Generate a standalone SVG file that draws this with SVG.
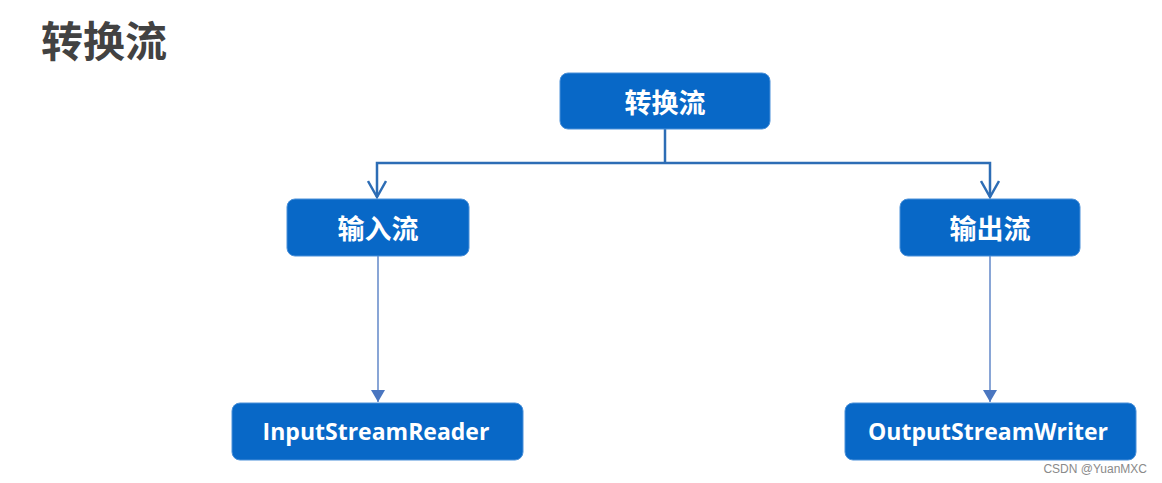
<svg xmlns="http://www.w3.org/2000/svg" width="1162" height="483" viewBox="0 0 1162 483">
<style>
.node rect{fill:#0868C7;stroke:#4A90D9;stroke-width:1}
.cn{font-family:"Noto Sans CJK SC","Noto Sans",sans-serif;font-weight:bold;fill:#fff;font-size:27px;text-anchor:middle;dominant-baseline:central}
.en{font-family:"Open Sans","Noto Sans",sans-serif;font-weight:bold;fill:#fff;font-size:23px;text-anchor:middle;dominant-baseline:central}
.c1{fill:none;stroke:#2D6DB5;stroke-width:2.5}
.c2{fill:none;stroke:#4A76C0;stroke-width:1.3}
</style>
<defs>
<marker id="open" viewBox="0 0 20 20" refX="18" refY="10" markerWidth="20" markerHeight="20" markerUnits="userSpaceOnUse" orient="auto">
<path d="M2,1 L18,10 L2,19" fill="none" stroke="#2D6DB5" stroke-width="2.5"/>
</marker>
<marker id="tri" viewBox="0 0 12 14" refX="12" refY="7" markerWidth="12" markerHeight="14" markerUnits="userSpaceOnUse" orient="auto">
<path d="M0,0 L12,7 L0,14 Z" fill="#4A76C0"/>
</marker>
</defs>
<rect width="1162" height="483" fill="#ffffff"/>
<text x="41" y="57" font-family="Noto Sans CJK SC, sans-serif" font-weight="bold" font-size="42" fill="#424242">转换流</text>
<g id="connectors">
<path class="c1" d="M665,129 V163"/>
<path class="c1" d="M665,163 H377 V197" marker-end="url(#open)"/>
<path class="c1" d="M665,163 H990 V197" marker-end="url(#open)"/>
<path class="c2" d="M378,256 V402" marker-end="url(#tri)"/>
<path class="c2" d="M990,256 V402" marker-end="url(#tri)"/>
</g>
<g id="node-top" class="node"><rect x="560" y="73" width="210" height="56" rx="8"/><text class="cn" x="665" y="101">转换流</text></g>
<g id="node-in" class="node"><rect x="287" y="199" width="182" height="57" rx="8"/><text class="cn" x="378" y="227">输入流</text></g>
<g id="node-out" class="node"><rect x="900" y="199" width="180" height="57" rx="8"/><text class="cn" x="990" y="227">输出流</text></g>
<g id="node-isr" class="node"><rect x="232" y="403" width="291" height="57" rx="8"/><text class="en" x="376" y="431">InputStreamReader</text></g>
<g id="node-osw" class="node"><rect x="845" y="403" width="291" height="57" rx="8"/><text class="en" x="988" y="431">OutputStreamWriter</text></g>
<text x="1147" y="473" text-anchor="end" font-family="Liberation Sans, sans-serif" font-size="12" fill="#8a8a8a">CSDN @YuanMXC</text>
</svg>
